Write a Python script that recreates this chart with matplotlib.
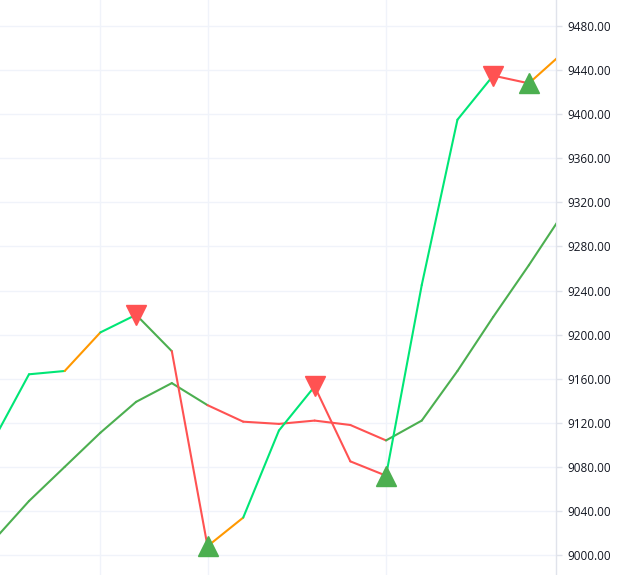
import matplotlib
matplotlib.use("Agg")
import matplotlib.pyplot as plt
from matplotlib.ticker import FixedLocator, FuncFormatter

# ---- data ----
price = [9104, 9164, 9167, 9202, 9218, 9185, 9008, 9034, 9113, 9153,
         9085, 9072, 9245, 9395, 9435, 9428, 9457]
ma = [9013, 9049, 9080, 9111, 9139, 9156, 9136, 9121, 9119, 9122,
      9118, 9104, 9122, 9167, 9216, 9263, 9312]
# state of each segment (i -> i+1)
price_state = ["up", "up", "flat", "up", "trend", "down", "flat", "up", "up",
               "down", "down", "up", "up", "up", "down", "flat"]
ma_state = ["trend", "trend", "trend", "trend", "trend", "trend", "down", "down",
            "down", "down", "down", "trend", "trend", "trend", "trend", "trend"]
sell_idx = [4, 9, 14]
buy_idx = [6, 11, 15]
vgrid_idx = [3, 6, 11]
y_ticks = [9000, 9040, 9080, 9120, 9160, 9200, 9240, 9280, 9320, 9360, 9400, 9440, 9480]

colors = {"up": "#00E676", "flat": "#FF9800", "down": "#FF5252", "trend": "#4CAF50"}

fig = plt.figure(figsize=(6.18, 5.75), dpi=100)
ax = fig.add_axes([0, 0, 556 / 618, 1])
x = list(range(len(price)))

for i in range(len(ma) - 1):
    ax.plot(x[i:i + 2], ma[i:i + 2], color=colors[ma_state[i]], lw=1.5,
            solid_capstyle="round", zorder=3)
for i in range(len(price) - 1):
    ax.plot(x[i:i + 2], price[i:i + 2], color=colors[price_state[i]], lw=1.5,
            solid_capstyle="round", zorder=4)

ax.plot(sell_idx, [price[i] for i in sell_idx], linestyle="none", marker="v",
        markersize=14.4, color="#FF5252", zorder=5)
ax.plot(buy_idx, [price[i] for i in buy_idx], linestyle="none", marker="^",
        markersize=14.4, color="#4CAF50", zorder=5)

ax.set_xlim(0.188, 15.76)
ax.set_ylim(8981.9, 9503.6)

for v in vgrid_idx:
    ax.axvline(v, color="#F0F3FA", lw=1, zorder=0)
ax.yaxis.set_major_locator(FixedLocator(y_ticks))
ax.grid(axis="y", color="#F0F3FA", lw=1, zorder=0)
ax.set_axisbelow(True)

ax.yaxis.tick_right()
ax.yaxis.set_major_formatter(FuncFormatter(lambda v, p: f"{v:.2f}"))
ax.tick_params(axis="y", length=4, width=1, color="#E0E3EB", pad=4,
               labelsize=8.5, labelcolor="#131722")
for lab in ax.get_yticklabels():
    lab.set_fontfamily(["Open Sans", "DejaVu Sans"])
ax.set_xticks([])
for s in ["top", "left", "bottom"]:
    ax.spines[s].set_visible(False)
ax.spines["right"].set_color("#E0E3EB")
ax.spines["right"].set_linewidth(1)

fig.savefig("out.png", dpi=100)
